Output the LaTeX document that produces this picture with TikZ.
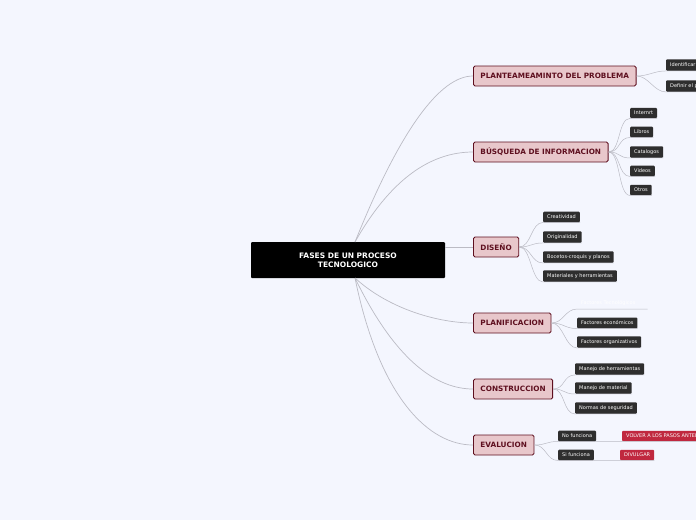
\documentclass[tikz,border=0pt]{standalone}
\usepackage{fontspec}
\setmainfont{DejaVu Sans}
\begin{document}
\begin{tikzpicture}[x=1pt,y=-1pt,
 mainbox/.style={draw=mred,fill=mpink,line width=0.9pt,rounded corners=1.5pt,font=\bfseries\fontsize{7.3}{8}\selectfont,text=mred,minimum height=20pt,inner xsep=7pt,anchor=west},
 leaf/.style={fill=leafgray,rounded corners=1pt,font=\fontsize{5}{6}\selectfont,text=white,minimum height=10pt,inner xsep=4pt,anchor=west},
 redleaf/.style={leaf,fill=redl},
 conn/.style={draw=linegray,line width=0.7pt},
 sconn/.style={draw=linegray,line width=0.5pt}]
\definecolor{mred}{HTML}{5E0F1F}
\definecolor{mpink}{HTML}{E8C7CB}
\definecolor{leafgray}{HTML}{2E2E2E}
\definecolor{redl}{HTML}{C0283F}
\definecolor{linegray}{HTML}{BBBBC4}
\definecolor{bg}{HTML}{F4F6FE}
\fill[bg] (0,0) rectangle (696,520);
\useasboundingbox (0,0) rectangle (696,520);
\begin{scope}
\clip (0,0) rectangle (696,520);
\node[fill=black,rounded corners=1pt,minimum width=194pt,minimum height=36pt,align=center,text=white,font=\bfseries\fontsize{7.5}{9}\selectfont] (c) at (348,260) {FASES DE UN PROCESO\\TECNOLOGICO};
\coordinate (ct) at (355,242);
\coordinate (cb) at (355,278);
\node[mainbox] (p) at (473,76) {PLANTEAMEAMINTO DEL PROBLEMA};
\node[mainbox] (b) at (473,152) {BÚSQUEDA DE INFORMACION};
\node[mainbox] (d) at (473,247) {DISEÑO};
\node[mainbox] (pl) at (473,323) {PLANIFICACION};
\node[mainbox] (co) at (473,389) {CONSTRUCCION};
\node[mainbox] (e) at (473,445) {EVALUCION};
\draw[conn] (ct) .. controls (400,130) and (440,76) .. (p.west);
\draw[conn] (ct) .. controls (390,180) and (430,152) .. (b.west);
\draw[conn] (c.east|-d.west) -- (d.west);
\draw[conn] (cb) .. controls (390,310) and (440,323) .. (pl.west);
\draw[conn] (cb) .. controls (390,350) and (430,389) .. (co.west);
\draw[conn] (cb) .. controls (380,400) and (430,445) .. (e.west);
\foreach \n/\x/\y/\t/\pn in {
 p1/666/65/Identificar el problema/p, p2/666/86/Definir el problema/p,
 b1/630/113/Internrt/b, b2/630/132/Libros/b, b3/630/152/Catalogos/b, b4/630/171/Videos/b, b5/630/190/Otros/b,
 d1/543/217/Creatividad/d, d2/543/237/Originalidad/d, d3/543/257/Bocetos-croquis y planos/d, d4/543/276/Materiales y herramientas/d,
 l2/577/323/Factores económicos/pl, l3/577/342/Factores organizativos/pl,
 o1/575/369/Manejo de herramientas/co, o2/575/388/Manejo de material/co, o3/575/408/Normas de seguridad/co,
 e1/558/436/No funciona/e, e2/558/455/Si funciona/e}{
 \node[leaf] (\n) at (\x,\y) {\t};
 \draw[sconn] (\pn.east) .. controls ([xshift=12]\pn.east) and ([xshift=-12]\n.south west) .. (\n.south west) -- (\n.south east);
}
\node[anchor=west,font=\fontsize{5}{6}\selectfont,text=white,inner xsep=4pt,minimum height=10pt] (l1) at (577,303) {Factores Tecnológicos};
\draw[sconn] (pl.east) .. controls ([xshift=12]pl.east) and ([xshift=-12]l1.south west) .. (l1.south west) -- ([xshift=8]l1.south east);
\node[redleaf] (r1) at (622,436) {VOLVER A LOS PASOS ANTERIORES};
\node[redleaf] (r2) at (620,455) {DIVULGAR};
\draw[sconn] (e1.south east) -- (r1.south west) -- (r1.south east);
\draw[sconn] (e2.south east) -- (r2.south west) -- (r2.south east);
\end{scope}
\end{tikzpicture}
\end{document}
